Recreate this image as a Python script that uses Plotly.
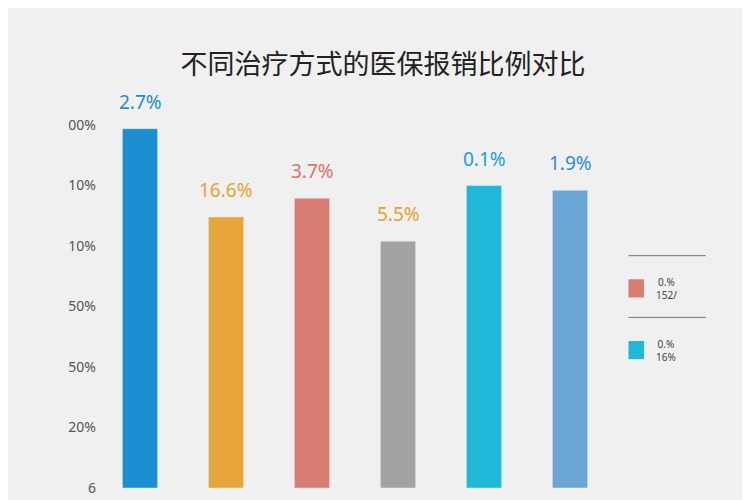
import plotly.graph_objects as go

categories = ["方式A", "方式B", "方式C", "方式D", "方式E", "方式F"]
values = [59.4, 44.8, 47.9, 40.8, 50.0, 49.2]
bar_labels = ["2.7%", "16.6%", "3.7%", "5.5%", "0.1%", "1.9%"]
colors = ["#1b8fd2", "#e8a53a", "#d97c72", "#a3a3a3", "#20b8d8", "#6aa5d3"]
label_colors = ["#1b8fd2", "#e3a232", "#d9736a", "#e3a232", "#1b9fd6", "#2a8fcf"]
tick_vals = [0, 10, 20, 30, 40, 50, 60]
tick_text = ["6", "20%", "50%", "50%", "10%", "10%", "00%"]

fig = go.Figure()
fig.add_trace(go.Bar(
    x=categories, y=values, marker_color=colors, width=0.41, showlegend=False,
))

for c, v, t, lc in zip(categories, values, bar_labels, label_colors):
    fig.add_annotation(x=c, y=v, text=t, showarrow=False, yanchor="bottom", yshift=12,
                       font=dict(size=19, color=lc))

fig.update_layout(
    width=750, height=500,
    title=dict(text="不同治疗方式的医保报销比例对比", x=0.5, y=0.905, xanchor="center",
               font=dict(size=27, color="#222", family="Noto Sans CJK SC")),
    paper_bgcolor="#f0f0f0", plot_bgcolor="#f0f0f0",
    margin=dict(l=89, r=145, t=117, b=11),
    font=dict(family="Noto Sans", color="#555"),
    xaxis=dict(showticklabels=False, showgrid=False, zeroline=False),
    yaxis=dict(range=[0, 60], tickvals=tick_vals, ticktext=tick_text,
               showgrid=False, zeroline=False, tickfont=dict(size=14, color="#555")),
)

# legend-like items on the right
for yy, c, t in [(0.55, colors[2], "0.%<br>152/"), (0.38, colors[4], "0.%<br>16%")]:
    fig.add_shape(type="rect", xref="paper", yref="paper", x0=1.03, x1=1.06,
                  y0=yy - 0.025, y1=yy + 0.025, fillcolor=c, line_width=0)
    fig.add_shape(type="line", xref="paper", yref="paper", x0=1.03, x1=1.18,
                  y0=yy + 0.09, y1=yy + 0.09, line=dict(color="#777", width=1))
    fig.add_annotation(xref="paper", yref="paper", x=1.08, y=yy, text=t, showarrow=False,
                       xanchor="left", font=dict(size=10, color="#444"))

fig.write_html("out.html")
